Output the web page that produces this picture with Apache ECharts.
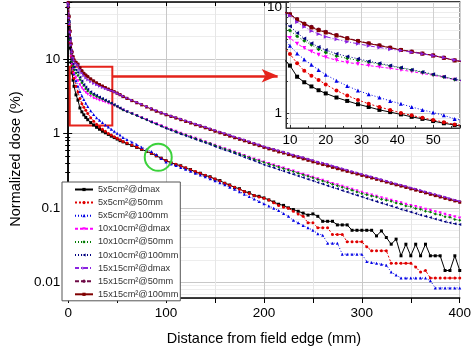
<!DOCTYPE html>
<html>
<head>
<meta charset="utf-8">
<script src="https://cdn.jsdelivr.net/npm/echarts/dist/echarts.min.js"></script>
<style>
    html, body { margin: 0; padding: 0; background: #fff; }
    #char1 { width: 474px; height: 351px; }
</style>
</head>
<body>
<div id="char1"></div>
<script>
// distance from field edge (mm)
var distance = [0, 1, 2, 3, 4, 5, 6, 8, 10, 12, 14, 16, 18, 20, 23, 26, 29, 32, 35, 38, 41, 44, 47, 50, 53, 56,
    60, 65, 70, 75, 80, 85, 90, 95, 100, 105, 110, 115, 120, 125, 130, 135, 140, 145, 150, 155, 160, 165, 170, 175, 180, 185, 190, 195, 200,
    205, 210, 215, 220, 225, 230, 235, 240, 245, 250, 255, 260, 265, 270, 275, 280, 285, 290, 295, 300,
    305, 310, 315, 320, 325, 330, 335, 340, 345, 350, 355, 360, 365, 370, 375, 380, 385, 390, 395, 400];

// normalized dose (%)
var dose5dmax = [50, 27, 14, 9, 6.5, 5.2, 4.3, 3.3, 2.8, 2.2, 1.95, 1.78, 1.64, 1.53, 1.4, 1.3, 1.21, 1.14, 1.07, 1.02, 0.97, 0.92, 0.88, 0.84, 0.8, 0.77,
    0.73, 0.69, 0.65, 0.61, 0.575, 0.54, 0.5, 0.465, 0.43, 0.405, 0.383, 0.368, 0.343, 0.327, 0.303, 0.292, 0.272, 0.262, 0.243, 0.233, 0.214, 0.203, 0.188, 0.181, 0.165, 0.16, 0.146, 0.143, 0.136,
    0.128, 0.12, 0.112, 0.108, 0.1, 0.095, 0.09, 0.085, 0.08, 0.083, 0.077, 0.066, 0.066, 0.066, 0.059, 0.059, 0.059, 0.05, 0.05, 0.05,
    0.05, 0.05, 0.042, 0.049, 0.04, 0.0325, 0.038, 0.0227, 0.0325, 0.0227, 0.0325, 0.0227, 0.0325, 0.0227, 0.0227, 0.0227, 0.0144, 0.0144, 0.0227, 0.0144];
var dose5at50 = [51, 29, 16.5, 11, 8.2, 6.6, 5.5, 4.3, 3.6, 2.95, 2.5, 2.25, 2.05, 1.86, 1.63, 1.46, 1.33, 1.22, 1.14, 1.07, 1.0, 0.95, 0.9, 0.86, 0.82, 0.78,
    0.745, 0.7, 0.66, 0.62, 0.58, 0.545, 0.505, 0.465, 0.43, 0.405, 0.385, 0.365, 0.345, 0.325, 0.308, 0.29, 0.274, 0.26, 0.245, 0.23, 0.215, 0.202, 0.19, 0.178, 0.166, 0.156, 0.147, 0.14, 0.135,
    0.128, 0.117, 0.108, 0.102, 0.099, 0.09, 0.083, 0.077, 0.063, 0.063, 0.054, 0.054, 0.054, 0.044, 0.044, 0.044, 0.035, 0.035, 0.035, 0.035,
    0.03, 0.0265, 0.0265, 0.0265, 0.0265, 0.018, 0.018, 0.018, 0.018, 0.018, 0.016, 0.0137, 0.0144, 0.0114, 0.0114, 0.0114, 0.0114, 0.0114, 0.0114, 0.0114];
var dose5at100 = [52, 30, 18, 12.5, 9.5, 7.6, 6.4, 5.1, 4.3, 3.65, 3.2, 2.85, 2.55, 2.3, 2.02, 1.8, 1.63, 1.5, 1.4, 1.3, 1.22, 1.14, 1.07, 1.01, 0.95, 0.88,
    0.83, 0.77, 0.71, 0.655, 0.61, 0.57, 0.52, 0.46, 0.415, 0.39, 0.37, 0.35, 0.33, 0.31, 0.293, 0.277, 0.262, 0.247, 0.232, 0.218, 0.204, 0.19, 0.178, 0.165, 0.153, 0.142, 0.132, 0.122, 0.114,
    0.106, 0.099, 0.092, 0.084, 0.077, 0.068, 0.063, 0.058, 0.054, 0.05, 0.045, 0.043, 0.0335, 0.0335, 0.0335, 0.0239, 0.0239, 0.0239, 0.0239, 0.0239,
    0.019, 0.0185, 0.018, 0.0175, 0.017, 0.0137, 0.0125, 0.0114, 0.0114, 0.0114, 0.0114, 0.0114, 0.0114, 0.0105, 0.0084, 0.0084, 0.0084, 0.0084, 0.0084, 0.0084];
var dose10dmax = [53, 30, 17, 11, 8.5, 7.2, 6.4, 5.6, 5.1, 4.5, 4.1, 3.8, 3.55, 3.36, 3.15, 3.0, 2.9, 2.8, 2.72, 2.64, 2.55, 2.46, 2.36, 2.27, 2.17, 2.06,
    1.96, 1.85, 1.74, 1.63, 1.53, 1.43, 1.35, 1.27, 1.19, 1.13, 1.07, 1.01, 0.955, 0.905, 0.86, 0.815, 0.775, 0.735, 0.695, 0.66, 0.625, 0.595, 0.565, 0.535, 0.505, 0.48, 0.455, 0.435, 0.415,
    0.395, 0.377, 0.36, 0.343, 0.327, 0.312, 0.297, 0.283, 0.27, 0.258, 0.246, 0.235, 0.224, 0.213, 0.204, 0.195, 0.186, 0.178, 0.17, 0.162,
    0.155, 0.149, 0.143, 0.137, 0.132, 0.127, 0.122, 0.117, 0.112, 0.108, 0.104, 0.1, 0.096, 0.093, 0.089, 0.086, 0.082, 0.079, 0.076, 0.073];
var dose10at50 = [54, 31, 18, 12, 9.3, 8.0, 7.2, 6.5, 6.0, 5.3, 4.8, 4.4, 4.0, 3.72, 3.45, 3.28, 3.14, 3.02, 2.9, 2.78, 2.66, 2.54, 2.42, 2.3, 2.19, 2.07,
    1.97, 1.85, 1.74, 1.63, 1.53, 1.43, 1.34, 1.26, 1.18, 1.12, 1.06, 1.0, 0.95, 0.9, 0.855, 0.81, 0.77, 0.73, 0.69, 0.655, 0.62, 0.59, 0.56, 0.53, 0.5, 0.475, 0.45, 0.43, 0.41,
    0.39, 0.372, 0.354, 0.338, 0.322, 0.307, 0.292, 0.278, 0.265, 0.253, 0.241, 0.23, 0.219, 0.208, 0.199, 0.189, 0.18, 0.172, 0.164, 0.156,
    0.15, 0.144, 0.14, 0.131, 0.127, 0.123, 0.116, 0.113, 0.106, 0.104, 0.098, 0.096, 0.09, 0.088, 0.083, 0.081, 0.076, 0.075, 0.07, 0.068];
var dose10at100 = [55, 32, 19, 13, 10, 8.6, 7.8, 7.1, 6.6, 5.7, 5.05, 4.55, 4.2, 3.93, 3.62, 3.42, 3.25, 3.08, 2.94, 2.81, 2.68, 2.56, 2.44, 2.32, 2.2, 2.08,
    1.98, 1.86, 1.74, 1.63, 1.53, 1.43, 1.34, 1.25, 1.17, 1.1, 1.04, 0.98, 0.93, 0.88, 0.835, 0.79, 0.75, 0.71, 0.67, 0.635, 0.6, 0.57, 0.54, 0.51, 0.48, 0.455, 0.43, 0.405, 0.38,
    0.362, 0.345, 0.328, 0.312, 0.297, 0.283, 0.269, 0.256, 0.243, 0.231, 0.22, 0.209, 0.199, 0.189, 0.18, 0.171, 0.163, 0.155, 0.148, 0.141,
    0.134, 0.128, 0.122, 0.116, 0.111, 0.106, 0.101, 0.096, 0.092, 0.088, 0.084, 0.08, 0.077, 0.074, 0.071, 0.068, 0.065, 0.063, 0.061, 0.06];
var dose15dmax = [56, 36, 23, 15.5, 12.2, 10.5, 9.5, 8.7, 8.3, 7.2, 6.5, 5.95, 5.55, 5.25, 4.95, 4.7, 4.5, 4.3, 4.15, 4.0, 3.88, 3.75, 3.62, 3.48, 3.33, 3.17,
    3.0, 2.8, 2.62, 2.46, 2.3, 2.16, 2.03, 1.91, 1.81, 1.72, 1.64, 1.56, 1.48, 1.41, 1.34, 1.28, 1.22, 1.16, 1.1, 1.05, 1.0, 0.95, 0.9, 0.86, 0.82, 0.78, 0.74, 0.705, 0.67,
    0.64, 0.615, 0.59, 0.565, 0.54, 0.515, 0.495, 0.475, 0.455, 0.435, 0.415, 0.4, 0.385, 0.368, 0.352, 0.337, 0.322, 0.309, 0.296, 0.283,
    0.272, 0.261, 0.25, 0.24, 0.23, 0.22, 0.211, 0.203, 0.195, 0.187, 0.179, 0.172, 0.165, 0.158, 0.152, 0.146, 0.14, 0.134, 0.128, 0.123];
var dose15at50 = [58, 38, 24, 16, 12.5, 10.8, 9.8, 9.1, 8.6, 7.7, 7.0, 6.5, 6.15, 5.85, 5.45, 5.1, 4.8, 4.55, 4.35, 4.15, 3.95, 3.8, 3.65, 3.5, 3.33, 3.15,
    2.98, 2.78, 2.6, 2.44, 2.29, 2.14, 2.01, 1.9, 1.8, 1.71, 1.63, 1.55, 1.47, 1.4, 1.33, 1.27, 1.21, 1.15, 1.09, 1.04, 0.99, 0.94, 0.89, 0.85, 0.81, 0.77, 0.73, 0.7, 0.66,
    0.635, 0.61, 0.58, 0.56, 0.535, 0.51, 0.49, 0.47, 0.45, 0.43, 0.41, 0.395, 0.38, 0.36, 0.345, 0.33, 0.317, 0.304, 0.291, 0.279,
    0.268, 0.257, 0.246, 0.236, 0.226, 0.217, 0.208, 0.2, 0.192, 0.184, 0.176, 0.169, 0.162, 0.155, 0.149, 0.143, 0.137, 0.131, 0.126, 0.121];
var dose15at100 = [57, 37, 23.5, 16, 12.4, 10.7, 9.7, 9.0, 8.5, 7.6, 6.9, 6.4, 6.05, 5.75, 5.38, 5.05, 4.76, 4.52, 4.32, 4.12, 3.93, 3.78, 3.63, 3.48, 3.31, 3.13,
    2.96, 2.76, 2.58, 2.42, 2.27, 2.12, 1.99, 1.88, 1.78, 1.69, 1.61, 1.53, 1.45, 1.38, 1.31, 1.25, 1.19, 1.13, 1.07, 1.02, 0.97, 0.92, 0.875, 0.835, 0.795, 0.755, 0.715, 0.685, 0.65,
    0.62, 0.595, 0.565, 0.545, 0.52, 0.495, 0.475, 0.455, 0.435, 0.415, 0.398, 0.382, 0.366, 0.35, 0.336, 0.322, 0.309, 0.297, 0.285, 0.273,
    0.262, 0.252, 0.242, 0.232, 0.222, 0.213, 0.204, 0.196, 0.188, 0.18, 0.173, 0.166, 0.159, 0.152, 0.146, 0.14, 0.134, 0.129, 0.124, 0.119];

var names = ['5x5cm²@dmax', '5x5cm²@50mm', '5x5cm²@100mm',
    '10x10cm²@dmax', '10x10cm²@50mm', '10x10cm²@100mm',
    '15x15cm²@dmax', '15x15cm²@50mm', '15x15cm²@100mm'];
var doses = [dose5dmax, dose5at50, dose5at100, dose10dmax, dose10at50, dose10at100, dose15dmax, dose15at50, dose15at100];

// look of each curve
var looks = [
    { color: '#000000', symbol: 'rect', rot: 0, type: 'solid', z: 2 },
    { color: '#e00000', symbol: 'circle', rot: 0, type: [2, 2], z: 2 },
    { color: '#0000e6', symbol: 'triangle', rot: 0, type: [1, 2], z: 2 },
    { color: '#ff00ff', symbol: 'triangle', rot: 180, type: [3, 2], z: 2 },
    { color: '#007a00', symbol: 'diamond', rot: 0, type: [1, 2], z: 2 },
    { color: '#000080', symbol: 'triangle', rot: 90, type: [1, 2], z: 2 },
    { color: '#8a22e0', symbol: 'triangle', rot: -90, type: [4, 2, 1, 2], z: 3 },
    { color: '#6e0a46', symbol: 'circle', rot: 0, type: [4, 2], z: 2 },
    { color: '#800000', symbol: 'rect', rot: 0, type: 'solid', z: 2 }
];

var fontName = 'Liberation Sans, Arial, sans-serif';

function pairs(vals) {
    var out = [];
    for (var i = 0; i < distance.length; i++) {
        out.push([distance[i], vals[i]]);
    }
    return out;
}

var myChart = echarts.init(document.getElementById('char1'));
var seriesList = [];
for (var i = 0; i < names.length; i++) {
    seriesList.push({
        name: names[i],
        type: 'line',
        xAxisIndex: 0,
        yAxisIndex: 0,
        data: pairs(doses[i]),
        symbol: looks[i].symbol,
        symbolSize: 3,
        symbolRotate: looks[i].rot,
        itemStyle: { color: looks[i].color },
        lineStyle: { color: looks[i].color, width: 1, type: looks[i].type },
        emphasis: { disabled: true },
        z: looks[i].z
    });
}
// zoomed inset
for (var j = 0; j < names.length; j++) {
    seriesList.push({
        name: names[j],
        type: 'line',
        xAxisIndex: 2,
        yAxisIndex: 2,
        data: pairs(doses[j]),
        symbol: looks[j].symbol,
        symbolSize: 4,
        symbolRotate: looks[j].rot,
        itemStyle: { color: looks[j].color },
        lineStyle: { color: looks[j].color, width: 1, type: looks[j].type },
        emphasis: { disabled: true },
        z: looks[j].z + 2
    });
}
// red box, arrow and green circle
seriesList[8].markArea = {
    silent: true,
    label: { show: false },
    itemStyle: { color: 'rgba(0,0,0,0)', borderColor: '#e5231b', borderWidth: 2 },
    data: [[{ coord: [1.6, 7.9] }, { coord: [45.1, 1.28] }]]
};
seriesList[8].markLine = {
    silent: true,
    symbol: ['none', 'arrow'],
    symbolSize: [10, 16],
    label: { show: false },
    lineStyle: { color: '#e5231b', width: 2.5, type: 'solid' },
    data: [[{ coord: [45.1, 5.96] }, { coord: [214, 5.96] }]]
};
seriesList[8].markPoint = {
    silent: true,
    symbol: 'circle',
    symbolSize: 27,
    label: { show: false },
    itemStyle: { color: 'rgba(0,0,0,0)', borderColor: '#3bd23b', borderWidth: 2 },
    data: [{ coord: [92, 0.478] }]
};

option = {
    animation: false,
    backgroundColor: '#ffffff',
    textStyle: { fontFamily: fontName },
    grid: [
        { left: 55, top: 2, width: 405, height: 301 },
        { left: 286, top: 2, width: 174, height: 126, show: true, backgroundColor: '#ffffff', borderColor: '#333', borderWidth: 1, z: 1 }
    ],
    legend: {
        data: names,
        orient: 'vertical',
        left: 62,
        top: 182,
        itemWidth: 18,
        itemHeight: 4,
        itemGap: 2.1,
        padding: [2, 2, 1, 12],
        backgroundColor: '#ffffff',
        borderColor: '#555',
        borderWidth: 1,
        borderRadius: 0,
        textStyle: { fontSize: 9.2, lineHeight: 11, color: '#333', fontFamily: fontName }
    },
    xAxis: [
        {
            gridIndex: 0, type: 'value', min: 0, max: 400, interval: 50, position: 'bottom',
            axisLine: { lineStyle: { color: '#000', width: 1.5 } },
            axisTick: { length: 5, lineStyle: { color: '#000' } },
            axisLabel: {
                color: '#000', fontSize: 13.5, fontFamily: fontName, margin: 8,
                formatter: function (v) { return v % 100 === 0 ? String(v) : ''; }
            },
            splitLine: { show: true, lineStyle: { color: ['#c8c8c8', '#e6e6e6'], width: 1 } },
            name: 'Distance from field edge (mm)', nameLocation: 'middle', nameGap: 33,
            nameTextStyle: { fontSize: 14.5, color: '#000', fontFamily: fontName }
        },
        {
            gridIndex: 0, type: 'value', min: 0, max: 400, interval: 50, position: 'top',
            axisLine: { lineStyle: { color: '#000', width: 1.5 } },
            axisTick: { inside: true, length: 4, lineStyle: { color: '#000' } },
            axisLabel: { show: false },
            splitLine: { show: false }
        },
        {
            gridIndex: 1, type: 'value', min: 8.9, max: 57.5, splitNumber: 5, z: 3,
            axisLine: { lineStyle: { color: '#333', width: 1 } },
            axisTick: { inside: true, length: 3, lineStyle: { color: '#333' } },
            minorTick: { show: true, splitNumber: 2, length: 2, lineStyle: { color: '#333' } },
            axisLabel: { color: '#000', fontSize: 13.5, fontFamily: fontName, margin: 5, showMinLabel: false, showMaxLabel: false },
            splitLine: { show: true, lineStyle: { color: '#d0d0d0', width: 1 } }
        }
    ],
    yAxis: [
        {
            gridIndex: 0, type: 'log', logBase: 10, min: 0.00615, max: 58.4,
            axisLine: { show: true, lineStyle: { color: '#000', width: 1.5 } },
            axisTick: { length: 5, lineStyle: { color: '#000' } },
            minorTick: { show: true, splitNumber: 9, length: 3, lineStyle: { color: '#000' } },
            axisLabel: { color: '#000', fontSize: 13.5, fontFamily: fontName, margin: 8, showMinLabel: false, showMaxLabel: false },
            splitLine: { show: true, lineStyle: { color: '#c8c8c8', width: 1 } },
            minorSplitLine: { show: true, lineStyle: { color: '#ededed', width: 1 } },
            name: 'Normalized dose (%)', nameLocation: 'middle', nameGap: 44, nameRotate: 90,
            nameTextStyle: { fontSize: 14.5, color: '#000', fontFamily: fontName, padding: [0, 18, 0, 0] }
        },
        {
            gridIndex: 0, type: 'log', logBase: 10, min: 0.00615, max: 58.4, position: 'right',
            axisLine: { show: true, lineStyle: { color: '#000', width: 1.5 } },
            axisTick: { length: 4, lineStyle: { color: '#000' } },
            minorTick: { show: true, splitNumber: 9, length: 2, lineStyle: { color: '#000' } },
            axisLabel: { show: false },
            splitLine: { show: false }
        },
        {
            gridIndex: 1, type: 'log', logBase: 10, min: 0.722, max: 11.1, z: 3,
            axisLine: { show: true, lineStyle: { color: '#333', width: 1 } },
            axisTick: { inside: true, length: 3, lineStyle: { color: '#333' } },
            minorTick: { show: true, splitNumber: 9, length: 2, lineStyle: { color: '#333' } },
            axisLabel: { color: '#000', fontSize: 13.5, fontFamily: fontName, margin: 4, showMinLabel: false, showMaxLabel: false },
            splitLine: { show: true, lineStyle: { color: '#c8c8c8', width: 1 } },
            minorSplitLine: { show: true, lineStyle: { color: '#ececec', width: 1 } }
        }
    ],
    series: seriesList
};

myChart.setOption(option);
window.addEventListener('resize', function () { myChart.resize(); })
</script>
</body>
</html>
